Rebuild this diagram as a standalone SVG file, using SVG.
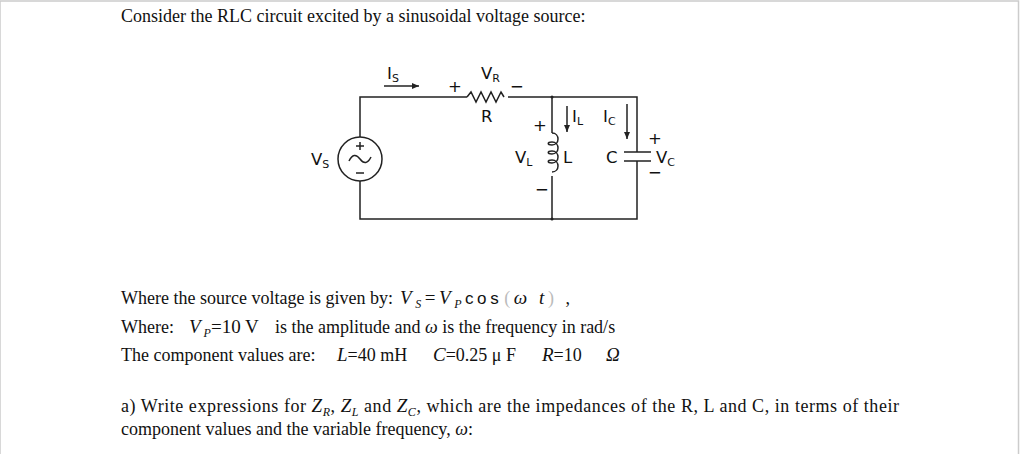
<svg xmlns="http://www.w3.org/2000/svg" width="1020" height="454" viewBox="0 0 1020 454">
<style>
.t{font-family:"Liberation Serif",serif;font-size:18px;fill:#111}
.s{font-family:"DejaVu Sans",sans-serif;font-size:16.5px;fill:#111}
.ss{font-size:11px}
.w{stroke:#222;stroke-width:1.5;fill:none}
.m{font-style:italic;font-size:19px}
.b{font-size:12px;font-style:italic}
</style>
<defs><marker id="a" markerWidth="8" markerHeight="8" refX="7" refY="4" orient="auto" markerUnits="userSpaceOnUse"><path d="M0,1 L7,4 L0,7Z" fill="#222"/></marker></defs>
<rect x="0" y="1" width="1018.5" height="460" fill="none" stroke="#ccc" stroke-width="1.5"/>
<text class="t" x="121" y="22">Consider the RLC circuit excited by a sinusoidal voltage source:</text>
<g id="connectors">
<path class="w" d="M360,137 V97 H467 M508,97 H637 V152 M637,161 V219 H360 V181 M552,97 V133 M552,176 V219"/>
<path class="w" d="M384,86 H419" marker-end="url(#a)"/>
<path class="w" d="M567,106 V132" marker-end="url(#a)"/>
<path class="w" d="M627,104 V139" marker-end="url(#a)"/>
<circle cx="552" cy="97" r="1.5" fill="#222"/><circle cx="552" cy="219" r="1.5" fill="#222"/>
</g>
<g id="source">
<circle class="w" cx="360" cy="159" r="22"/>
<path class="w" d="M349,161 q5,-10 11,-2 q6,8 11,-2"/>
<path class="w" d="M356,146 h8 M360,142 v8 M356,173 h8"/>
<text class="s" x="311" y="165">V<tspan class="ss" dy="3">S</tspan></text>
<text class="s" x="387" y="79">I<tspan class="ss" dy="3">S</tspan></text>
</g>
<g id="resistor">
<path class="w" d="M467,97 l4,-5 l5,10 l5,-10 l5,10 l5,-10 l5,10 l5,-10 l3,5"/>
<text class="s" x="481" y="79">V<tspan class="ss" dy="3">R</tspan></text>
<text class="s" x="448" y="92">+</text><text class="s" x="510" y="92">−</text>
<text class="s" x="481" y="122">R</text>
</g>
<g id="inductor">
<path class="w" d="M552,133 c8,0 8,12 0,12 c-5,0 -5,-3 0,-3 c8,0 8,12 0,12 c-5,0 -5,-3 0,-3 c8,0 8,12 0,12 c-5,0 -5,-3 0,-3 c8,0 8,12 0,12"/>
<text class="s" x="533" y="131">+</text><text class="s" x="535" y="195">−</text>
<text class="s" x="515" y="163">V<tspan class="ss" dy="3">L</tspan></text>
<text class="s" x="563" y="163">L</text>
<text class="s" x="572" y="122">I<tspan class="ss" dy="3">L</tspan></text>
</g>
<g id="capacitor">
<path class="w" d="M624,152 h27 M624,161 h27"/>
<text class="s" x="606" y="163">C</text>
<text class="s" x="603" y="122">I<tspan class="ss" dy="3">C</tspan></text>
<text class="s" x="648" y="144">+</text><text class="s" x="648" y="178">−</text>
<text class="s" x="656" y="163">V<tspan class="ss" dy="3">C</tspan></text>
</g>
<text class="t" x="121" y="304">Where the source voltage is given by:</text>
<text class="t" x="400" y="304" textLength="170" lengthAdjust="spacing"><tspan class="m">V</tspan><tspan class="b" dy="4">S</tspan><tspan dy="-4" font-size="19">=</tspan><tspan class="m">V</tspan><tspan class="b" dy="4">P</tspan><tspan dy="-4" font-family="Liberation Sans" font-size="17">cos</tspan><tspan fill="#bbb" dx="2">(</tspan><tspan class="m">ω t</tspan><tspan fill="#bbb">)</tspan> ,</text>
<text class="t" x="121" y="333">Where:</text>
<text class="t" x="189" y="333"><tspan class="m">V</tspan><tspan class="b" dy="4"> P</tspan><tspan dy="-4" font-size="19">=10 V</tspan></text>
<text class="t" x="275" y="333">is the amplitude and <tspan font-style="italic">ω</tspan> is the frequency in rad/s</text>
<text class="t" x="121" y="361">The component values are:</text>
<text class="t" x="337" y="361" font-size="19"><tspan class="m">L</tspan>=40 mH</text>
<text class="t" x="433" y="361" font-size="19"><tspan class="m">C</tspan>=0.25 μ F</text>
<text class="t" x="542" y="361" font-size="19"><tspan class="m">R</tspan>=10</text>
<text class="t" x="606" y="361" font-size="19"><tspan class="m">Ω</tspan></text>
<text class="t" x="121" y="412" textLength="778">a) Write expressions for <tspan class="m">Z</tspan><tspan class="b" dy="4">R</tspan><tspan dy="-4">, </tspan><tspan class="m">Z</tspan><tspan class="b" dy="4">L</tspan><tspan dy="-4"> and </tspan><tspan class="m">Z</tspan><tspan class="b" dy="4">C</tspan><tspan dy="-4">, which are the impedances of the R, L and C, in terms of their</tspan></text>
<text class="t" x="121" y="435">component values and the variable frequency, <tspan font-style="italic">ω</tspan>:</text>
</svg>
